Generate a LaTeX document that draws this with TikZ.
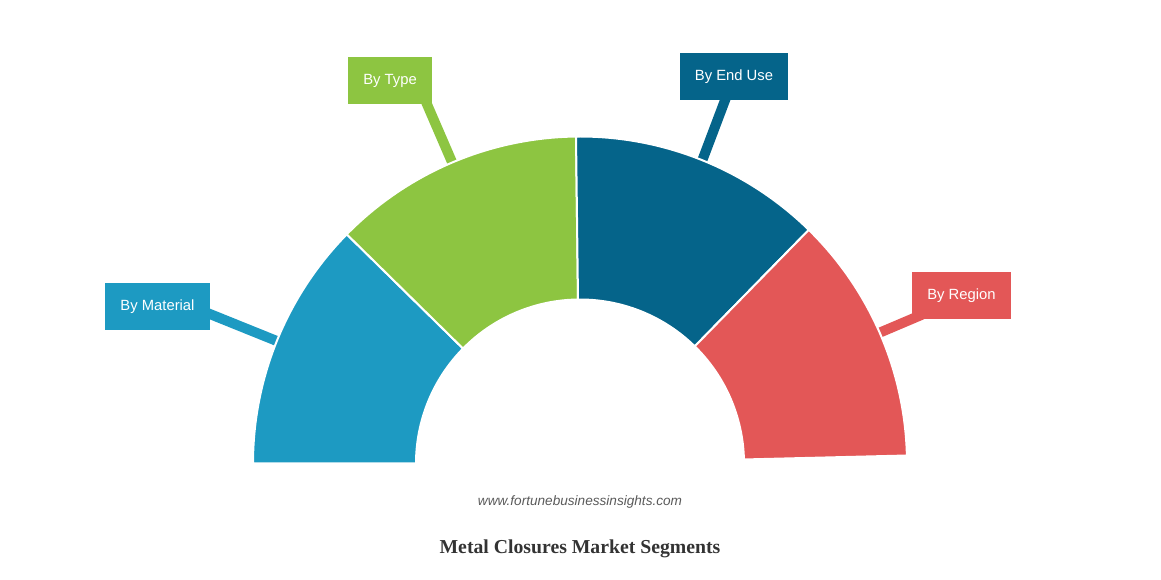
\documentclass[tikz,border=0pt]{standalone}
\usepackage{fontspec}
\setmainfont{Liberation Sans}
\newfontfamily\titlefont{Liberation Serif}
\usetikzlibrary{calc}
\definecolor{matblue}{RGB}{29,154,194}
\definecolor{typegreen}{RGB}{141,197,65}
\definecolor{enduseblue}{RGB}{5,100,138}
\definecolor{regionred}{RGB}{227,87,87}
\definecolor{footgray}{RGB}{90,90,90}
\definecolor{titlegray}{RGB}{51,51,51}
\pgfdeclarelayer{background}
\pgfsetlayers{background,main}
\tikzset{
	seglabel/.style={
			fill=#1, text=white, inner xsep=11.25pt, minimum height=35.25pt,
			font=\fontsize{11.1}{13}\selectfont
		},
	stem/.style={draw=#1, line width=7.5pt, shorten <=-6pt}
}

\begin{document}
\begin{tikzpicture}[x=0.75pt, y=0.75pt]
    \def\rout{327} % outer radius
    \def\rin{164} % inner radius
    \useasboundingbox (0,0) rectangle (1161,580);
    \coordinate (c) at (580,116.5);

    % Tips of the stems, just inside the outer rim
    \coordinate (mat-tip) at ($(c)+(158:\rout-8)$);
    \coordinate (type-tip) at ($(c)+(113:\rout-8)$);
    \coordinate (enduse-tip) at ($(c)+(68:\rout-8)$);
    \coordinate (region-tip) at ($(c)+(23.6:\rout-8)$);

    % Labels
    \node[seglabel=matblue] (mat) at (157.5,273.5) {By Material};
    \node[seglabel=typegreen] (type) at (390,499.5) {By Type};
    \node[seglabel=enduseblue] (enduse) at (734,503.5) {By End Use};
    \node[seglabel=regionred] (region) at (961.5,284) {By Region};

    % Stems, kept under labels and ring
    \begin{pgfonlayer}{background}
      \draw[stem=matblue] ([yshift=-5.6pt]mat.east) -- (mat-tip);
      \draw[stem=typegreen] ([xshift=-3.75pt]type.south east) -- (type-tip);
      \draw[stem=enduseblue] ([xshift=-6.75pt]enduse.south) -- (enduse-tip);
      \draw[stem=regionred] ([xshift=2pt,yshift=1.5pt]region.south west) -- (region-tip);
    \end{pgfonlayer}

    % Ring segments
    \foreach \a/\b/\col in {180/135.5/matblue, 135.5/90.7/typegreen,
                            90.7/45.6/enduseblue, 45.6/1.4/regionred} {
      \fill[\col, draw=white, line width=1.5pt]
        ($(c)+(\a:\rout)$) arc[start angle=\a, end angle=\b, radius=\rout]
        -- ($(c)+(\b:\rin)$) arc[start angle=\b, end angle=\a, radius=\rin]
        -- cycle;
    }

    % Footer and title
    \node[text=footgray, font=\fontsize{10.2}{12}\selectfont\itshape] (site) at (580,78) {www.fortunebusinessinsights.com};
    \node[text=titlegray, font=\titlefont\fontsize{14.8}{17}\selectfont\bfseries] (title) at (580,31) {Metal Closures Market Segments};
\end{tikzpicture}
\end{document}
